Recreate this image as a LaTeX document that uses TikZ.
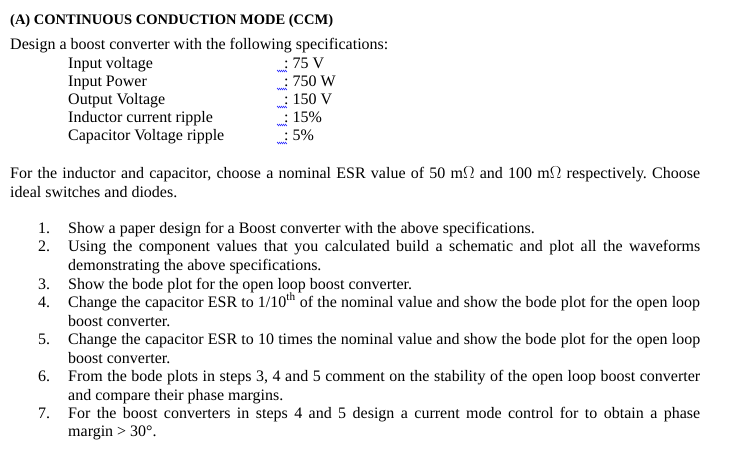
\documentclass[tikz,border=0pt]{standalone}
\usepackage{fontspec}
\setmainfont{Liberation Serif}
\usetikzlibrary{decorations.pathmorphing}
\begin{document}
\frenchspacing
\begin{tikzpicture}[x=1pt,y=-1pt,
  txt/.style={anchor=base west,inner sep=0pt,font=\fontsize{16}{18}\selectfont\frenchspacing},
  sq/.style={blue!80,line width=0.5pt,decorate,decoration={zigzag,amplitude=0.8pt,segment length=2pt}}]
\useasboundingbox[fill=white] (0,0) rectangle (754,451);
\node[txt,font=\fontsize{14.5}{17}\selectfont\bfseries] (t) at (10,24) {(A) CONTINUOUS CONDUCTION MODE (CCM)};
\node[txt] (d) at (10,49) {Design a boost converter with the following specifications:};
\foreach \n/\a/\b [count=\i] in {Input voltage/75 V,Input Power/750 W,Output Voltage/150 V,Inductor current ripple/15\%,Capacitor Voltage ripple/5\%}{
  \node[txt] (s\i) at (68,50+18*\i) {\n};
  \node[txt] (v\i) at (284,50+18*\i) {: \b};
  \draw[sq] (277,53+18*\i) -- (287,53+18*\i);
}
\node[txt] (p1) at (10,178) {\hbox to 690pt{For the inductor and capacitor, choose a nominal ESR value of 50 m$\Omega$ and 100 m$\Omega$ respectively. Choose}};
\node[txt] (p2) at (10,197) {ideal switches and diodes.};
\def\L#1#2{\node[txt] at (68,#1) {\hbox to 632pt{#2}};}
\def\S#1#2{\node[txt] at (68,#1) {#2};}
\def\N#1#2{\node[txt] at (38,#1) {#2.};}
\N{233}{1}\S{233}{Show a paper design for a Boost converter with the above specifications.}
\N{251}{2}\L{251}{Using the component values that you calculated build a schematic and plot all the waveforms}
\S{270}{demonstrating the above specifications.}
\N{289}{3}\S{289}{Show the bode plot for the open loop boost converter.}
\N{307}{4}\L{307}{Change the capacitor ESR to 1/10\textsuperscript{th} of the nominal value and show the bode plot for the open loop}
\S{326}{boost converter.}
\N{344}{5}\L{344}{Change the capacitor ESR to 10 times the nominal value and show the bode plot for the open loop}
\S{363}{boost converter.}
\N{381}{6}\L{381}{From the bode plots in steps 3, 4 and 5 comment on the stability of the open loop boost converter}
\S{400}{and compare their phase margins.}
\N{418}{7}\L{418}{For the boost converters in steps 4 and 5 design a current mode control for to obtain a phase}
\S{436}{margin > 30°.}
\end{tikzpicture}
\end{document}
